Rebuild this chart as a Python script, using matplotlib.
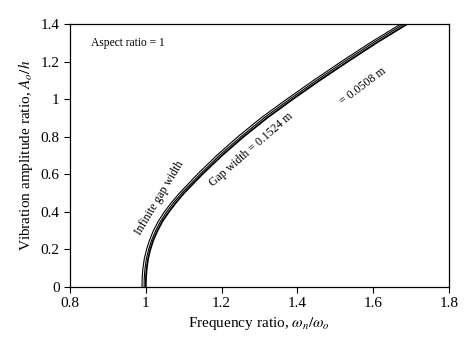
import matplotlib
matplotlib.use("Agg")
import matplotlib.pyplot as plt
from matplotlib.ticker import FuncFormatter

plt.rcParams["font.family"] = ["Liberation Serif", "DejaVu Serif"]
plt.rcParams["mathtext.fontset"] = "stix"

# amplitude ratio A_o/h (shared by the three backbone curves)
amp = [0.0, 0.05, 0.1, 0.15, 0.2, 0.25, 0.3, 0.35, 0.4, 0.45, 0.5, 0.6,
       0.7, 0.8, 0.9, 1.0, 1.1, 1.2, 1.3, 1.4]
# frequency ratio for each gap width
freq_infinite = [0.990, 0.9905, 0.9925, 0.996, 1.002, 1.010, 1.020, 1.033,
                 1.049, 1.068, 1.089, 1.136, 1.187, 1.243, 1.304, 1.372,
                 1.443, 1.516, 1.592, 1.673]
freq_0152 = [0.9955, 0.996, 0.998, 1.0015, 1.0075, 1.0155, 1.026, 1.039,
             1.055, 1.074, 1.095, 1.143, 1.194, 1.251, 1.312, 1.380,
             1.451, 1.524, 1.600, 1.681]
freq_0051 = [1.000, 1.0005, 1.0025, 1.006, 1.012, 1.020, 1.031, 1.044,
             1.061, 1.080, 1.101, 1.149, 1.201, 1.258, 1.320, 1.388,
             1.459, 1.533, 1.609, 1.690]

xticks = [0.8, 1.0, 1.2, 1.4, 1.6, 1.8]
yticks = [0, 0.2, 0.4, 0.6, 0.8, 1.0, 1.2, 1.4]

fig = plt.figure(figsize=(4.74, 3.51), dpi=100)
ax = fig.add_axes([0.1477, 0.1823, 0.7993, 0.7493])

ax.plot(freq_infinite, amp, color="black", lw=0.8)
ax.plot(freq_0152, amp, color="black", lw=0.8)
ax.plot(freq_0051, amp, color="black", lw=1.3)

ax.set_xlim(0.8, 1.8)
ax.set_ylim(0, 1.4)
ax.set_xticks(xticks)
ax.set_yticks(yticks)
fmt = FuncFormatter(lambda v, p: f"{v:g}")
ax.xaxis.set_major_formatter(fmt)
ax.yaxis.set_major_formatter(fmt)
ax.tick_params(direction="out", length=4, width=0.8, labelsize=11,
               top=False, right=False)
for s in ax.spines.values():
    s.set_linewidth(0.9)

ax.set_xlabel(r"Frequency ratio, $\omega_n/\omega_o$", fontsize=11, labelpad=3)
ax.set_ylabel(r"Vibration amplitude ratio, $A_o/h$", fontsize=11, labelpad=4)

ax.text(0.855, 1.30, "Aspect ratio = 1", fontsize=8.3, va="center")
ax.text(1.036, 0.475, "Infinite gap width", fontsize=8.5, rotation=59,
        ha="center", va="center")
ax.text(1.277, 0.73, "Gap width = 0.1524 m", fontsize=8.5, rotation=41,
        ha="center", va="center")
ax.text(1.572, 1.07, "= 0.0508 m", fontsize=8.5, rotation=37,
        ha="center", va="center")

fig.savefig("out.png", dpi=100, facecolor="white")
